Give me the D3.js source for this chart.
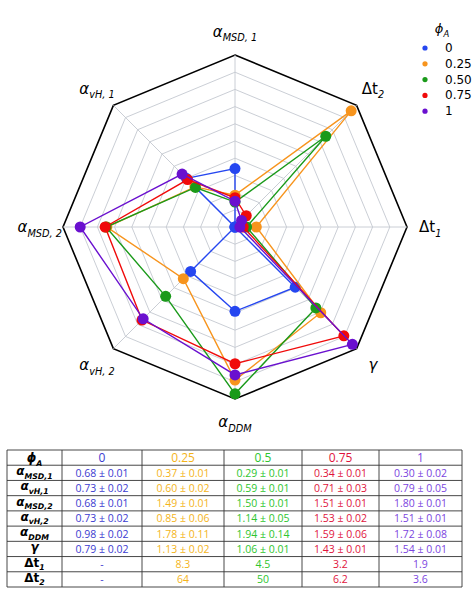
<!DOCTYPE html>
<html><head><meta charset="utf-8">
<script src="https://cdn.jsdelivr.net/npm/d3@7"></script>
<style>body{margin:0;background:#fff}</style>
</head><body>
<svg id="c" width="474" height="601"></svg>
<script>
// axes clockwise from the top
const axes = [["α","MSD, 1"],["Δt","2"],["Δt","1"],["γ",""],["α","DDM"],["α","vH, 2"],["α","MSD, 2"],["α","vH, 1"]]
const phis = ["0", "0.25", "0.50", "0.75", "1"]
const plotColors = ["#2546f0", "#f7941d", "#1a9a1a", "#f00a0a", "#6a10cf"]
const tableColors = ["#3b3bd0", "#f4b41a", "#2ec52e", "#e0143c", "#7b45e0"]
// plotted values (radial scale 0..2)
const aMSD1 = [0.68, 0.37, 0.29, 0.34, 0.30]
const aVH1 = [0.80, 0.66, 0.65, 0.78, 0.87]
const aMSD2 = [0, 1.49, 1.50, 1.51, 1.80]
const aVH2 = [0.73, 0.85, 1.14, 1.53, 1.51]
const aDDM = [0.98, 1.78, 1.94, 1.59, 1.72]
const gammaPlot = [0.99, 1.41, 1.33, 1.79, 1.93]
const dt1 = [0, 8.3, 4.5, 3.2, 1.9]
const dt2 = [0, 64, 50, 6.2, 3.6]
const dtScale = 33.5

const tableHead = ["0", "0.25", "0.5", "0.75", "1"]
const tableRows = [
  [["α","MSD,1"], ["0.68 ± 0.01","0.37 ± 0.01","0.29 ± 0.01","0.34 ± 0.01","0.30 ± 0.02"]],
  [["α","vH,1"], ["0.73 ± 0.02","0.60 ± 0.02","0.59 ± 0.01","0.71 ± 0.03","0.79 ± 0.05"]],
  [["α","MSD,2"], ["0.68 ± 0.01","1.49 ± 0.01","1.50 ± 0.01","1.51 ± 0.01","1.80 ± 0.01"]],
  [["α","vH,2"], ["0.73 ± 0.02","0.85 ± 0.06","1.14 ± 0.05","1.53 ± 0.02","1.51 ± 0.01"]],
  [["α","DDM"], ["0.98 ± 0.02","1.78 ± 0.11","1.94 ± 0.14","1.59 ± 0.06","1.72 ± 0.08"]],
  [["γ",""], ["0.79 ± 0.02","1.13 ± 0.02","1.06 ± 0.01","1.43 ± 0.01","1.54 ± 0.01"]],
  [["Δt","1"], ["-","8.3","4.5","3.2","1.9"]],
  [["Δt","2"], ["-","64","50","6.2","3.6"]]
]

const svg = d3.select('#c')
const cx = 235, cy = 227
const r = d3.scaleLinear().domain([0, 2]).range([0, 172])
const ang = i => -Math.PI / 2 + i * Math.PI / 4
const pt = (i, v) => [cx + r(v) * Math.cos(ang(i)), cy + r(v) * Math.sin(ang(i))]
const line = d3.line()

// grid rings
d3.range(0.2, 2.001, 0.2).forEach((v, k, arr) => {
  const last = k === arr.length - 1
  svg.append('path').attr('d', line(axes.map((a, i) => pt(i, v))) + 'Z')
    .attr('fill', 'none').attr('stroke', last ? '#000' : '#c4c8d0')
    .attr('stroke-width', last ? 1.6 : 0.9)
})
axes.forEach((a, i) => {
  svg.append('line').attr('x1', cx).attr('y1', cy)
    .attr('x2', pt(i, 2)[0]).attr('y2', pt(i, 2)[1])
    .attr('stroke', '#c4c8d0').attr('stroke-width', 0.9)
})

function label(g, x, y, base, sub, size, anchor) {
  const t = g.append('text').attr('x', x).attr('y', y).attr('text-anchor', anchor || 'middle')
    .attr('font-family', 'DejaVu Sans').attr('font-size', size)
  t.append('tspan').attr('font-style', base === 'α' || base === 'γ' || base === 'ϕ' ? 'italic' : 'normal').text(base)
  if (sub) t.append('tspan').attr('font-size', size * 0.65).attr('font-style', 'italic')
    .attr('dy', size * 0.3).text(sub)
  return t
}

// axis labels
axes.forEach((a, i) => {
  const [x, y] = pt(i, 2.27)
  label(svg, x, y + 5, a[0], a[1], 15)
})

// series
phis.forEach((p, s) => {
  const vals = [aMSD1[s], dt2[s] / dtScale, dt1[s] / dtScale, gammaPlot[s], aDDM[s], aVH2[s], aMSD2[s], aVH1[s]]
  const pts = vals.map((v, i) => pt(i, v))
  svg.append('path').attr('d', line(pts) + 'Z').attr('fill', 'none')
    .attr('stroke', plotColors[s]).attr('stroke-width', 1.4)
  svg.selectAll(null).data(pts).enter().append('circle')
    .attr('cx', d => d[0]).attr('cy', d => d[1]).attr('r', 5.5).attr('fill', plotColors[s])
})

// legend
label(svg, 442, 33, 'ϕ', 'A', 13)
phis.forEach((p, s) => {
  const y = 48 + s * 15.8
  svg.append('circle').attr('cx', 425).attr('cy', y).attr('r', 2.6).attr('fill', plotColors[s])
  svg.append('text').attr('x', 445).attr('y', y + 4).attr('font-family', 'DejaVu Sans')
    .attr('font-size', 12).text(p)
})

// table
const colX = [7, 62, 142, 224, 302, 379, 462]
const rowY = d3.scaleLinear().domain([0, 9]).range([450, 587])
const tg = svg.append('g')
d3.range(10).forEach(k => tg.append('line').attr('x1', colX[0]).attr('x2', colX[6])
  .attr('y1', rowY(k)).attr('y2', rowY(k)).attr('stroke', '#333').attr('stroke-width', 0.9))
colX.forEach(x => tg.append('line').attr('x1', x).attr('x2', x)
  .attr('y1', rowY(0)).attr('y2', rowY(9)).attr('stroke', '#333').attr('stroke-width', 0.9))
const mid = k => (colX[k] + colX[k + 1]) / 2
label(tg, mid(0), rowY(0) + 12, 'ϕ', 'A', 12).attr('font-weight', 'bold')
tableHead.forEach((h, s) => tg.append('text').attr('x', mid(s + 1)).attr('y', rowY(0) + 12)
  .attr('text-anchor', 'middle').attr('font-family', 'Open Sans').attr('font-size', 12)
  .attr('fill', tableColors[s]).text(h))
tableRows.forEach((row, k) => {
  const y = rowY(k + 1) + 11.5
  label(tg, mid(0), y - 1.5, row[0][0], row[0][1], 12).attr('font-weight', 'bold')
  row[1].forEach((v, s) => tg.append('text').attr('x', mid(s + 1)).attr('y', y)
    .attr('text-anchor', 'middle').attr('font-family', 'Open Sans').attr('font-size', 10.5)
    .attr('fill', tableColors[s]).text(v))
})
</script>
</body></html>
